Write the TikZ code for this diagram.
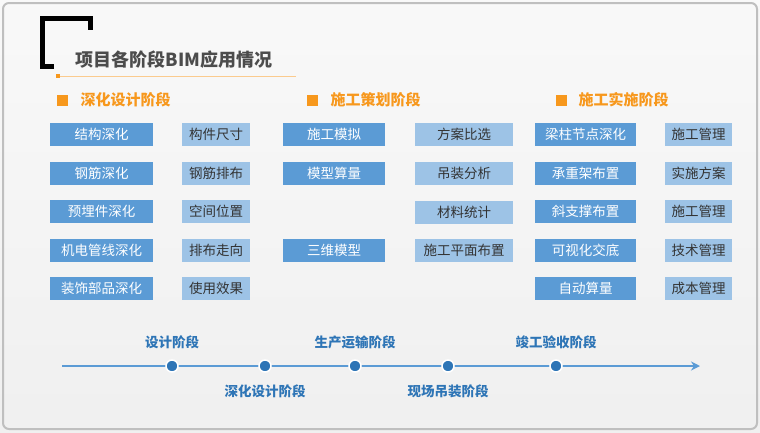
\documentclass[tikz,border=0pt]{standalone}
\usepackage{fontspec}
\setmainfont{Noto Sans CJK SC}
\usetikzlibrary{arrows.meta}
\definecolor{dk}{HTML}{5B9BD5}
\definecolor{lt}{HTML}{9DC3E6}
\definecolor{og}{HTML}{F7981D}
\definecolor{tl}{HTML}{2E75B6}
\tikzset{x=1pt,y=-1pt,
 dbox/.style={fill=dk,text=white,minimum height=23pt,inner sep=0pt,font=\fontsize{13.5}{14}\selectfont},
 lbox/.style={fill=lt,text=black!80,minimum height=23pt,inner sep=0pt,font=\fontsize{13.5}{14}\selectfont},
 head/.style={text=og,font=\bfseries\fontsize{15}{16}\selectfont,anchor=west},
 sq/.style={fill=og,minimum size=11pt,inner sep=0pt},
 dot/.style={circle,fill=tl,draw=white,line width=1.5pt,minimum size=12pt,inner sep=0pt},
 tlab/.style={text=tl,font=\bfseries\fontsize{13.5}{15}\selectfont}}
\begin{document}
\begin{tikzpicture}
\useasboundingbox (0,0) rectangle (760,432);
\shade[top color=white!95!gray,bottom color=white!88!gray] (0,0) rectangle (760,432);
\draw[gray!50,line width=2pt,rounded corners=6pt] (3,3) rectangle (757,429);
\draw[black,line width=5pt] (54,66) -- (42,66) -- (42,18) -- (90,18) -- (90,30);
\node[anchor=west,text=black!70,font=\bfseries\fontsize{18}{20}\selectfont] (title) at (72,60) {项目各阶段BIM应用情况};
\draw[og!50,line width=1pt] (58,76) -- (296,76);
\fill[og] (56,74) rectangle (60,78);
% headings
\node[sq] (s1) at (62,100) {}; \node[head] (h1) at (77,100) {深化设计阶段};
\node[sq] (s2) at (312,100) {}; \node[head] (h2) at (327,100) {施工策划阶段};
\node[sq] (s3) at (561,100) {}; \node[head] (h3) at (575,100) {施工实施阶段};
% column 1
\foreach \t [count=\i] in {结构深化,钢筋深化,预埋件深化,机电管线深化,装饰部品深化}{
 \pgfmathsetmacro\yy{96+38.5*\i}
 \node[dbox,minimum width=103pt] (a\i) at (101.5,\yy) {\t};}
\foreach \t [count=\i] in {构件尺寸,钢筋排布,空间位置,排布走向,使用效果}{
 \pgfmathsetmacro\yy{96+38.5*\i}
 \node[lbox,minimum width=68pt] (b\i) at (216,\yy) {\t};}
% column 2
\node[dbox,minimum width=102pt] (c1) at (334,134) {施工模拟};
\node[dbox,minimum width=102pt] (c2) at (334,173) {模型算量};
\node[dbox,minimum width=102pt] (c4) at (334,250) {三维模型};
\node[lbox,minimum width=98pt] (d1) at (464,134) {方案比选};
\node[lbox,minimum width=98pt] (d2) at (464,173) {吊装分析};
\node[lbox,minimum width=98pt] (d3) at (464,212) {材料统计};
\node[lbox,minimum width=98pt] (d4) at (464,250) {施工平面布置};
% column 3
\foreach \t [count=\i] in {梁柱节点深化,承重架布置,斜支撑布置,可视化交底,自动算量}{
 \pgfmathsetmacro\yy{96+38.5*\i}
 \node[dbox,minimum width=101pt] (e\i) at (585.5,\yy) {\t};}
\foreach \t [count=\i] in {施工管理,实施方案,施工管理,技术管理,成本管理}{
 \pgfmathsetmacro\yy{96+38.5*\i}
 \node[lbox,minimum width=67pt] (f\i) at (698.5,\yy) {\t};}
% timeline
\coordinate (ls) at (62,366); \coordinate (le) at (700,366);
\draw[dk,line width=2.5pt,-{Stealth[length=9pt,width=9pt]}] (ls) -- (le);
\node[dot] (p1) at (172,366) {};
\node[dot] (p2) at (265,366) {};
\node[dot] (p3) at (355,366) {};
\node[dot] (p4) at (448,366) {};
\node[dot] (p5) at (556,366) {};
\node[tlab] (l1) at (172,342) {设计阶段};
\node[tlab] (l2) at (265,391) {深化设计阶段};
\node[tlab] (l3) at (355,342) {生产运输阶段};
\node[tlab] (l4) at (448,391) {现场吊装阶段};
\node[tlab] (l5) at (556,342) {竣工验收阶段};
\end{tikzpicture}
\end{document}
